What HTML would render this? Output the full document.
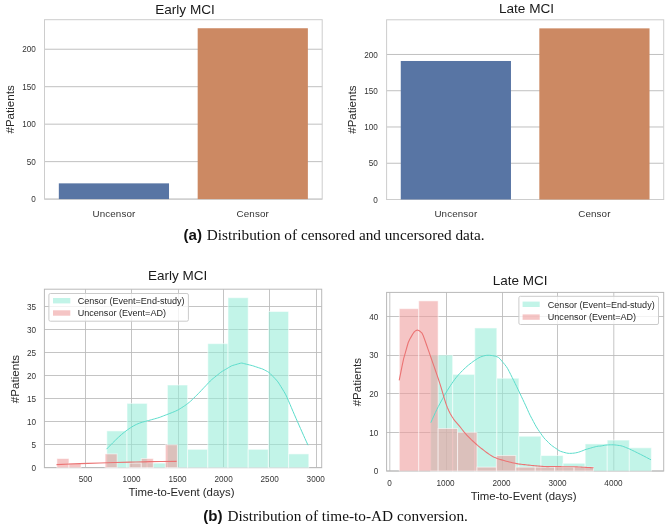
<!DOCTYPE html>
<html><head><meta charset="utf-8"><style>
html,body{margin:0;padding:0;background:#fff;width:668px;height:527px;overflow:hidden}
svg{display:block;font-family:"Liberation Sans", sans-serif;filter:blur(0.35px)}
</style></head><body>
<svg width="668" height="527" viewBox="0 0 668 527">
<g>
<line x1="44.5" y1="199.10" x2="322.2" y2="199.10" stroke="#c0c0c0" stroke-width="1"/>
<line x1="44.5" y1="161.63" x2="322.2" y2="161.63" stroke="#c0c0c0" stroke-width="1"/>
<line x1="44.5" y1="124.16" x2="322.2" y2="124.16" stroke="#c0c0c0" stroke-width="1"/>
<line x1="44.5" y1="86.69" x2="322.2" y2="86.69" stroke="#c0c0c0" stroke-width="1"/>
<line x1="44.5" y1="49.23" x2="322.2" y2="49.23" stroke="#c0c0c0" stroke-width="1"/>
<rect x="44.5" y="19.7" width="277.70" height="179.40" fill="none" stroke="#cdcdcd" stroke-width="1"/>
<rect x="58.82" y="183.36" width="110.20" height="15.74" fill="#5875a4"/>
<text x="113.92" y="217.00" font-size="9.8" text-anchor="middle" fill="#333" letter-spacing="0.12">Uncensor</text>
<rect x="197.67" y="28.24" width="110.20" height="170.86" fill="#cc8963"/>
<text x="252.77" y="217.00" font-size="9.8" text-anchor="middle" fill="#333" letter-spacing="0.12">Censor</text>
<text transform="translate(35.90,202.20) scale(0.9,1)" font-size="9.1" text-anchor="end" fill="#333">0</text>
<text transform="translate(35.90,164.73) scale(0.9,1)" font-size="9.1" text-anchor="end" fill="#333">50</text>
<text transform="translate(35.90,127.26) scale(0.9,1)" font-size="9.1" text-anchor="end" fill="#333">100</text>
<text transform="translate(35.90,89.79) scale(0.9,1)" font-size="9.1" text-anchor="end" fill="#333">150</text>
<text transform="translate(35.90,52.33) scale(0.9,1)" font-size="9.1" text-anchor="end" fill="#333">200</text>
<text x="185.00" y="14.30" font-size="13.6" text-anchor="middle" fill="#1a1a1a" >Early MCI</text>
<text x="0" y="0" font-size="11.6" text-anchor="middle" fill="#262626" transform="translate(14.0,109.40) rotate(-90)">#Patients</text>
<line x1="386.6" y1="199.50" x2="663.7" y2="199.50" stroke="#c0c0c0" stroke-width="1"/>
<line x1="386.6" y1="163.24" x2="663.7" y2="163.24" stroke="#c0c0c0" stroke-width="1"/>
<line x1="386.6" y1="126.98" x2="663.7" y2="126.98" stroke="#c0c0c0" stroke-width="1"/>
<line x1="386.6" y1="90.72" x2="663.7" y2="90.72" stroke="#c0c0c0" stroke-width="1"/>
<line x1="386.6" y1="54.46" x2="663.7" y2="54.46" stroke="#c0c0c0" stroke-width="1"/>
<rect x="386.6" y="19.8" width="277.10" height="179.70" fill="none" stroke="#cdcdcd" stroke-width="1"/>
<rect x="400.77" y="60.99" width="110.20" height="138.51" fill="#5875a4"/>
<text x="455.88" y="217.30" font-size="9.8" text-anchor="middle" fill="#333" letter-spacing="0.12">Uncensor</text>
<rect x="539.33" y="28.36" width="110.20" height="171.14" fill="#cc8963"/>
<text x="594.43" y="217.30" font-size="9.8" text-anchor="middle" fill="#333" letter-spacing="0.12">Censor</text>
<text transform="translate(377.80,202.60) scale(0.9,1)" font-size="9.1" text-anchor="end" fill="#333">0</text>
<text transform="translate(377.80,166.34) scale(0.9,1)" font-size="9.1" text-anchor="end" fill="#333">50</text>
<text transform="translate(377.80,130.08) scale(0.9,1)" font-size="9.1" text-anchor="end" fill="#333">100</text>
<text transform="translate(377.80,93.82) scale(0.9,1)" font-size="9.1" text-anchor="end" fill="#333">150</text>
<text transform="translate(377.80,57.56) scale(0.9,1)" font-size="9.1" text-anchor="end" fill="#333">200</text>
<text x="526.50" y="12.70" font-size="13.6" text-anchor="middle" fill="#1a1a1a" >Late MCI</text>
<text x="0" y="0" font-size="11.6" text-anchor="middle" fill="#262626" transform="translate(355.8,109.65) rotate(-90)">#Patients</text>
</g>
<line x1="44.4" y1="467.50" x2="321.7" y2="467.50" stroke="#b9b9b9" stroke-width="0.85"/>
<line x1="44.4" y1="444.50" x2="321.7" y2="444.50" stroke="#b9b9b9" stroke-width="0.85"/>
<line x1="44.4" y1="421.50" x2="321.7" y2="421.50" stroke="#b9b9b9" stroke-width="0.85"/>
<line x1="44.4" y1="398.50" x2="321.7" y2="398.50" stroke="#b9b9b9" stroke-width="0.85"/>
<line x1="44.4" y1="375.50" x2="321.7" y2="375.50" stroke="#b9b9b9" stroke-width="0.85"/>
<line x1="44.4" y1="352.50" x2="321.7" y2="352.50" stroke="#b9b9b9" stroke-width="0.85"/>
<line x1="44.4" y1="329.50" x2="321.7" y2="329.50" stroke="#b9b9b9" stroke-width="0.85"/>
<line x1="44.4" y1="306.50" x2="321.7" y2="306.50" stroke="#b9b9b9" stroke-width="0.85"/>
<line x1="85.50" y1="289.2" x2="85.50" y2="467.7" stroke="#b9b9b9" stroke-width="0.85"/>
<line x1="131.50" y1="289.2" x2="131.50" y2="467.7" stroke="#b9b9b9" stroke-width="0.85"/>
<line x1="178.50" y1="289.2" x2="178.50" y2="467.7" stroke="#b9b9b9" stroke-width="0.85"/>
<line x1="223.50" y1="289.2" x2="223.50" y2="467.7" stroke="#b9b9b9" stroke-width="0.85"/>
<line x1="269.50" y1="289.2" x2="269.50" y2="467.7" stroke="#b9b9b9" stroke-width="0.85"/>
<line x1="316.50" y1="289.2" x2="316.50" y2="467.7" stroke="#b9b9b9" stroke-width="0.85"/>
<rect x="44.4" y="289.2" width="277.30" height="178.50" fill="none" stroke="#b9b9b9" stroke-width="1"/>
<rect x="106.80" y="430.94" width="20.20" height="36.76" fill="rgba(152,236,216,0.59)" stroke="rgba(255,255,255,0.55)" stroke-width="1"/>
<rect x="127.00" y="403.38" width="20.20" height="64.32" fill="rgba(152,236,216,0.59)" stroke="rgba(255,255,255,0.55)" stroke-width="1"/>
<rect x="147.20" y="463.11" width="20.20" height="4.59" fill="rgba(152,236,216,0.59)" stroke="rgba(255,255,255,0.55)" stroke-width="1"/>
<rect x="167.40" y="385.00" width="20.20" height="82.70" fill="rgba(152,236,216,0.59)" stroke="rgba(255,255,255,0.55)" stroke-width="1"/>
<rect x="187.60" y="449.32" width="20.20" height="18.38" fill="rgba(152,236,216,0.59)" stroke="rgba(255,255,255,0.55)" stroke-width="1"/>
<rect x="207.80" y="343.65" width="20.20" height="124.05" fill="rgba(152,236,216,0.59)" stroke="rgba(255,255,255,0.55)" stroke-width="1"/>
<rect x="228.00" y="297.70" width="20.20" height="170.00" fill="rgba(152,236,216,0.59)" stroke="rgba(255,255,255,0.55)" stroke-width="1"/>
<rect x="248.20" y="449.32" width="20.20" height="18.38" fill="rgba(152,236,216,0.59)" stroke="rgba(255,255,255,0.55)" stroke-width="1"/>
<rect x="268.40" y="311.48" width="20.20" height="156.22" fill="rgba(152,236,216,0.59)" stroke="rgba(255,255,255,0.55)" stroke-width="1"/>
<rect x="288.60" y="453.92" width="20.20" height="13.78" fill="rgba(152,236,216,0.59)" stroke="rgba(255,255,255,0.55)" stroke-width="1"/>
<rect x="56.90" y="458.51" width="12.05" height="9.19" fill="rgba(238,157,157,0.59)" stroke="rgba(255,255,255,0.55)" stroke-width="1"/>
<rect x="68.95" y="463.11" width="12.05" height="4.59" fill="rgba(238,157,157,0.59)" stroke="rgba(255,255,255,0.55)" stroke-width="1"/>
<rect x="105.10" y="453.92" width="12.05" height="13.78" fill="rgba(238,157,157,0.59)" stroke="rgba(255,255,255,0.55)" stroke-width="1"/>
<rect x="129.20" y="463.11" width="12.05" height="4.59" fill="rgba(238,157,157,0.59)" stroke="rgba(255,255,255,0.55)" stroke-width="1"/>
<rect x="141.25" y="458.51" width="12.05" height="9.19" fill="rgba(238,157,157,0.59)" stroke="rgba(255,255,255,0.55)" stroke-width="1"/>
<rect x="165.35" y="444.73" width="12.05" height="22.97" fill="rgba(238,157,157,0.59)" stroke="rgba(255,255,255,0.55)" stroke-width="1"/>
<path d="M106.50,449.17 L108.00,447.65 L109.51,446.11 L111.01,444.58 L112.51,443.07 L114.02,441.57 L115.52,440.09 L117.03,438.63 L118.53,437.21 L120.03,435.84 L121.54,434.53 L123.04,433.26 L124.54,432.05 L126.05,430.89 L127.55,429.78 L129.06,428.74 L130.56,427.75 L132.06,426.79 L133.57,425.89 L135.07,425.07 L136.57,424.35 L138.08,423.70 L139.58,423.11 L141.09,422.58 L142.59,422.11 L144.09,421.70 L145.60,421.30 L147.10,420.89 L148.60,420.48 L150.11,420.08 L151.61,419.67 L153.12,419.26 L154.62,418.85 L156.12,418.43 L157.63,417.99 L159.13,417.52 L160.63,416.99 L162.14,416.41 L163.64,415.81 L165.15,415.23 L166.65,414.65 L168.15,414.08 L169.66,413.50 L171.16,412.92 L172.66,412.33 L174.17,411.72 L175.67,411.08 L177.18,410.37 L178.68,409.55 L180.18,408.65 L181.69,407.70 L183.19,406.72 L184.69,405.71 L186.20,404.65 L187.70,403.54 L189.21,402.37 L190.71,401.05 L192.21,399.62 L193.72,398.16 L195.22,396.69 L196.72,395.20 L198.23,393.70 L199.73,392.15 L201.24,390.54 L202.74,388.92 L204.24,387.33 L205.75,385.75 L207.25,384.16 L208.75,382.57 L210.26,380.99 L211.76,379.57 L213.26,378.38 L214.77,377.18 L216.27,375.96 L217.78,374.75 L219.28,373.53 L220.78,372.31 L222.29,371.30 L223.79,370.43 L225.29,369.54 L226.80,368.65 L228.30,367.76 L229.81,366.85 L231.31,365.97 L232.81,365.41 L234.32,364.98 L235.82,364.55 L237.32,364.12 L238.83,363.68 L240.33,363.24 L241.84,363.04 L243.34,363.39 L244.84,363.80 L246.35,364.17 L247.85,364.54 L249.35,364.91 L250.86,365.27 L252.36,365.65 L253.87,366.11 L255.37,366.63 L256.87,367.14 L258.38,367.65 L259.88,368.14 L261.38,368.58 L262.89,369.16 L264.39,369.90 L265.90,370.68 L267.40,371.49 L268.90,372.44 L270.41,373.77 L271.91,375.35 L273.41,376.92 L274.92,378.48 L276.42,380.09 L277.93,381.92 L279.43,384.19 L280.93,386.62 L282.44,389.08 L283.94,391.56 L285.44,394.15 L286.95,397.23 L288.45,400.71 L289.96,404.23 L291.46,407.77 L292.96,411.31 L294.47,414.81 L295.97,418.25 L297.47,421.65 L298.98,425.05 L300.48,428.45 L301.99,431.85 L303.49,435.22 L304.99,438.57 L306.50,441.90 L308.00,445.23" fill="none" stroke="#5cdccb" stroke-width="1.0" stroke-linejoin="round"/>
<path d="M56.50,464.60 C60.42,464.43 72.75,463.87 80.00,463.60 C87.25,463.33 91.67,463.25 100.00,463.00 C108.33,462.75 121.67,462.33 130.00,462.10 C138.33,461.87 142.23,461.72 150.00,461.60 C157.77,461.48 172.17,461.43 176.60,461.40" fill="none" stroke="#eb7474" stroke-width="1.1" stroke-linejoin="round"/>
<text transform="translate(36.10,471.10) scale(0.9,1)" font-size="9.1" text-anchor="end" fill="#333">0</text>
<text transform="translate(36.10,448.13) scale(0.9,1)" font-size="9.1" text-anchor="end" fill="#333">5</text>
<text transform="translate(36.10,425.15) scale(0.9,1)" font-size="9.1" text-anchor="end" fill="#333">10</text>
<text transform="translate(36.10,402.18) scale(0.9,1)" font-size="9.1" text-anchor="end" fill="#333">15</text>
<text transform="translate(36.10,379.21) scale(0.9,1)" font-size="9.1" text-anchor="end" fill="#333">20</text>
<text transform="translate(36.10,356.24) scale(0.9,1)" font-size="9.1" text-anchor="end" fill="#333">25</text>
<text transform="translate(36.10,333.26) scale(0.9,1)" font-size="9.1" text-anchor="end" fill="#333">30</text>
<text transform="translate(36.10,310.29) scale(0.9,1)" font-size="9.1" text-anchor="end" fill="#333">35</text>
<text transform="translate(85.45,482.20) scale(0.9,1)" font-size="9.1" text-anchor="middle" fill="#333">500</text>
<text transform="translate(131.50,482.20) scale(0.9,1)" font-size="9.1" text-anchor="middle" fill="#333">1000</text>
<text transform="translate(177.55,482.20) scale(0.9,1)" font-size="9.1" text-anchor="middle" fill="#333">1500</text>
<text transform="translate(223.60,482.20) scale(0.9,1)" font-size="9.1" text-anchor="middle" fill="#333">2000</text>
<text transform="translate(269.65,482.20) scale(0.9,1)" font-size="9.1" text-anchor="middle" fill="#333">2500</text>
<text transform="translate(315.70,482.20) scale(0.9,1)" font-size="9.1" text-anchor="middle" fill="#333">3000</text>
<text x="177.60" y="280.30" font-size="13.5" text-anchor="middle" fill="#1a1a1a" >Early MCI</text>
<text x="181.50" y="495.60" font-size="11.4" text-anchor="middle" fill="#262626" >Time-to-Event (days)</text>
<text x="0" y="0" font-size="11.6" text-anchor="middle" fill="#262626" transform="translate(19.0,379.00) rotate(-90)">#Patients</text>
<rect x="48.9" y="293.5" width="139.50" height="27.70" rx="1.5" ry="1.5" fill="rgba(255,255,255,0.8)" stroke="#cbcbcb" stroke-width="1"/>
<rect x="53" y="298.0" width="17.30" height="5.4" fill="rgba(152,236,216,0.59)"/>
<rect x="53" y="310.3" width="17.30" height="5.4" fill="rgba(238,157,157,0.59)"/>
<text transform="translate(77.7,304.00) scale(0.955,1)" font-size="9.5" fill="#262626">Censor (Event=End-study)</text>
<text transform="translate(77.7,316.30) scale(0.955,1)" font-size="9.5" fill="#262626">Uncensor (Event=AD)</text>
<line x1="386.6" y1="471.00" x2="663.7" y2="471.00" stroke="#b9b9b9" stroke-width="0.85"/>
<line x1="386.6" y1="432.50" x2="663.7" y2="432.50" stroke="#b9b9b9" stroke-width="0.85"/>
<line x1="386.6" y1="393.50" x2="663.7" y2="393.50" stroke="#b9b9b9" stroke-width="0.85"/>
<line x1="386.6" y1="355.50" x2="663.7" y2="355.50" stroke="#b9b9b9" stroke-width="0.85"/>
<line x1="386.6" y1="316.50" x2="663.7" y2="316.50" stroke="#b9b9b9" stroke-width="0.85"/>
<line x1="389.80" y1="292.4" x2="389.80" y2="471.0" stroke="#b9b9b9" stroke-width="0.85"/>
<line x1="446.50" y1="292.4" x2="446.50" y2="471.0" stroke="#b9b9b9" stroke-width="0.85"/>
<line x1="502.50" y1="292.4" x2="502.50" y2="471.0" stroke="#b9b9b9" stroke-width="0.85"/>
<line x1="557.50" y1="292.4" x2="557.50" y2="471.0" stroke="#b9b9b9" stroke-width="0.85"/>
<line x1="613.80" y1="292.4" x2="613.80" y2="471.0" stroke="#b9b9b9" stroke-width="0.85"/>
<rect x="386.6" y="292.4" width="277.10" height="178.60" fill="none" stroke="#b9b9b9" stroke-width="1"/>
<rect x="430.60" y="355.03" width="22.08" height="115.97" fill="rgba(152,236,216,0.59)" stroke="rgba(255,255,255,0.55)" stroke-width="1"/>
<rect x="452.68" y="374.35" width="22.08" height="96.65" fill="rgba(152,236,216,0.59)" stroke="rgba(255,255,255,0.55)" stroke-width="1"/>
<rect x="474.76" y="327.97" width="22.08" height="143.03" fill="rgba(152,236,216,0.59)" stroke="rgba(255,255,255,0.55)" stroke-width="1"/>
<rect x="496.84" y="378.22" width="22.08" height="92.78" fill="rgba(152,236,216,0.59)" stroke="rgba(255,255,255,0.55)" stroke-width="1"/>
<rect x="518.92" y="436.21" width="22.08" height="34.79" fill="rgba(152,236,216,0.59)" stroke="rgba(255,255,255,0.55)" stroke-width="1"/>
<rect x="541.00" y="455.54" width="22.08" height="15.46" fill="rgba(152,236,216,0.59)" stroke="rgba(255,255,255,0.55)" stroke-width="1"/>
<rect x="563.08" y="463.27" width="22.08" height="7.73" fill="rgba(152,236,216,0.59)" stroke="rgba(255,255,255,0.55)" stroke-width="1"/>
<rect x="585.16" y="443.94" width="22.08" height="27.06" fill="rgba(152,236,216,0.59)" stroke="rgba(255,255,255,0.55)" stroke-width="1"/>
<rect x="607.24" y="440.07" width="22.08" height="30.93" fill="rgba(152,236,216,0.59)" stroke="rgba(255,255,255,0.55)" stroke-width="1"/>
<rect x="629.32" y="447.81" width="22.08" height="23.19" fill="rgba(152,236,216,0.59)" stroke="rgba(255,255,255,0.55)" stroke-width="1"/>
<rect x="399.30" y="308.64" width="19.42" height="162.36" fill="rgba(238,157,157,0.59)" stroke="rgba(255,255,255,0.55)" stroke-width="1"/>
<rect x="418.72" y="300.90" width="19.42" height="170.10" fill="rgba(238,157,157,0.59)" stroke="rgba(255,255,255,0.55)" stroke-width="1"/>
<rect x="438.14" y="428.48" width="19.42" height="42.52" fill="rgba(238,157,157,0.59)" stroke="rgba(255,255,255,0.55)" stroke-width="1"/>
<rect x="457.56" y="432.34" width="19.42" height="38.66" fill="rgba(238,157,157,0.59)" stroke="rgba(255,255,255,0.55)" stroke-width="1"/>
<rect x="476.98" y="467.13" width="19.42" height="3.87" fill="rgba(238,157,157,0.59)" stroke="rgba(255,255,255,0.55)" stroke-width="1"/>
<rect x="496.40" y="455.54" width="19.42" height="15.46" fill="rgba(238,157,157,0.59)" stroke="rgba(255,255,255,0.55)" stroke-width="1"/>
<rect x="515.82" y="467.13" width="19.42" height="3.87" fill="rgba(238,157,157,0.59)" stroke="rgba(255,255,255,0.55)" stroke-width="1"/>
<rect x="535.24" y="467.13" width="19.42" height="3.87" fill="rgba(238,157,157,0.59)" stroke="rgba(255,255,255,0.55)" stroke-width="1"/>
<rect x="554.66" y="467.13" width="19.42" height="3.87" fill="rgba(238,157,157,0.59)" stroke="rgba(255,255,255,0.55)" stroke-width="1"/>
<rect x="574.08" y="467.13" width="19.42" height="3.87" fill="rgba(238,157,157,0.59)" stroke="rgba(255,255,255,0.55)" stroke-width="1"/>
<path d="M430.80,422.74 L432.31,419.37 L433.82,416.01 L435.32,412.70 L436.83,409.51 L438.34,406.53 L439.85,403.70 L441.36,400.94 L442.87,398.21 L444.37,395.54 L445.88,392.96 L447.39,390.44 L448.90,388.00 L450.41,385.67 L451.92,383.42 L453.42,381.23 L454.93,379.13 L456.44,377.19 L457.95,375.44 L459.46,373.77 L460.96,372.16 L462.47,370.61 L463.98,369.13 L465.49,367.71 L467.00,366.34 L468.51,365.05 L470.01,363.87 L471.52,362.72 L473.03,361.60 L474.54,360.54 L476.05,359.53 L477.55,358.57 L479.06,357.70 L480.57,356.99 L482.08,356.43 L483.59,355.96 L485.10,355.59 L486.60,355.34 L488.11,355.26 L489.62,355.31 L491.13,355.45 L492.64,355.68 L494.15,355.99 L495.65,356.36 L497.16,356.82 L498.67,357.57 L500.18,359.04 L501.69,360.87 L503.19,362.67 L504.70,364.47 L506.21,366.38 L507.72,368.73 L509.23,371.61 L510.74,374.59 L512.24,377.60 L513.75,380.62 L515.26,383.68 L516.77,386.78 L518.28,389.92 L519.78,393.10 L521.29,396.28 L522.80,399.44 L524.31,402.61 L525.82,405.86 L527.33,409.23 L528.83,412.62 L530.34,415.72 L531.85,418.59 L533.36,421.43 L534.87,424.25 L536.38,426.94 L537.88,429.29 L539.39,431.48 L540.90,433.64 L542.41,435.78 L543.92,437.80 L545.42,439.48 L546.93,441.01 L548.44,442.50 L549.95,443.97 L551.46,445.31 L552.97,446.43 L554.47,447.46 L555.98,448.46 L557.49,449.53 L559.00,450.59 L560.51,451.30 L562.02,451.79 L563.52,452.24 L565.03,452.66 L566.54,453.04 L568.05,453.29 L569.56,453.36 L571.06,453.34 L572.57,453.25 L574.08,453.10 L575.59,452.88 L577.10,452.56 L578.61,452.16 L580.11,451.69 L581.62,451.14 L583.13,450.52 L584.64,449.87 L586.15,449.35 L587.65,448.93 L589.16,448.50 L590.67,448.07 L592.18,447.64 L593.69,447.22 L595.20,446.81 L596.70,446.43 L598.21,446.17 L599.72,446.10 L601.23,445.95 L602.74,445.66 L604.25,445.37 L605.75,445.12 L607.26,444.95 L608.77,444.86 L610.28,444.82 L611.79,444.80 L613.29,444.80 L614.80,444.91 L616.31,445.10 L617.82,445.31 L619.33,445.53 L620.84,445.78 L622.34,446.15 L623.85,446.70 L625.36,447.28 L626.87,447.86 L628.38,448.48 L629.88,449.16 L631.39,449.86 L632.90,450.60 L634.41,451.34 L635.92,452.08 L637.43,452.83 L638.93,453.58 L640.44,454.33 L641.95,455.09 L643.46,455.86 L644.97,456.64 L646.48,457.43 L647.98,458.22 L649.49,459.02 L651.00,459.80" fill="none" stroke="#5cdccb" stroke-width="1.0" stroke-linejoin="round"/>
<path d="M399.20,380.30 L400.71,372.77 L402.21,365.27 L403.72,358.43 L405.23,353.08 L406.73,347.76 L408.24,342.51 L409.75,339.21 L411.26,336.63 L412.76,334.02 L414.27,331.85 L415.78,330.65 L417.28,329.99 L418.79,330.54 L420.30,331.57 L421.80,332.84 L423.31,335.82 L424.82,340.03 L426.33,344.27 L427.83,348.56 L429.34,352.89 L430.85,357.24 L432.35,361.57 L433.86,365.88 L435.37,370.20 L436.87,374.57 L438.38,379.00 L439.89,383.60 L441.40,388.50 L442.90,393.61 L444.41,398.82 L445.92,403.59 L447.42,407.63 L448.93,411.03 L450.44,413.93 L451.94,416.49 L453.45,418.82 L454.96,420.95 L456.47,422.69 L457.97,424.36 L459.48,426.13 L460.99,428.01 L462.49,430.00 L464.00,431.95 L465.51,433.71 L467.01,435.27 L468.52,436.81 L470.03,438.35 L471.53,439.84 L473.04,441.24 L474.55,442.62 L476.06,443.99 L477.56,445.32 L479.07,446.60 L480.58,447.83 L482.08,449.02 L483.59,450.19 L485.10,451.34 L486.60,452.46 L488.11,453.56 L489.62,454.60 L491.13,455.57 L492.63,456.43 L494.14,457.18 L495.65,457.84 L497.15,458.42 L498.66,458.94 L500.17,459.42 L501.67,459.87 L503.18,460.32 L504.69,460.75 L506.20,461.16 L507.70,461.56 L509.21,461.94 L510.72,462.31 L512.22,462.67 L513.73,463.01 L515.24,463.33 L516.74,463.62 L518.25,463.88 L519.76,464.10 L521.27,464.30 L522.77,464.47 L524.28,464.63 L525.79,464.79 L527.29,464.95 L528.80,465.11 L530.31,465.27 L531.81,465.43 L533.32,465.59 L534.83,465.74 L536.33,465.89 L537.84,466.03 L539.35,466.17 L540.86,466.30 L542.36,466.41 L543.87,466.50 L545.38,466.57 L546.88,466.59 L548.39,466.58 L549.90,466.55 L551.40,466.53 L552.91,466.53 L554.42,466.55 L555.93,466.58 L557.43,466.61 L558.94,466.64 L560.45,466.67 L561.95,466.70 L563.46,466.73 L564.97,466.75 L566.47,466.78 L567.98,466.80 L569.49,466.81 L571.00,466.81 L572.50,466.81 L574.01,466.81 L575.52,466.83 L577.02,466.87 L578.53,466.94 L580.04,467.01 L581.54,467.09 L583.05,467.18 L584.56,467.27 L586.07,467.35 L587.57,467.44 L589.08,467.53 L590.59,467.62 L592.09,467.71 L593.60,467.79" fill="none" stroke="#eb7474" stroke-width="1.1" stroke-linejoin="round"/>
<text transform="translate(378.30,474.40) scale(0.9,1)" font-size="9.1" text-anchor="end" fill="#333">0</text>
<text transform="translate(378.30,435.74) scale(0.9,1)" font-size="9.1" text-anchor="end" fill="#333">10</text>
<text transform="translate(378.30,397.08) scale(0.9,1)" font-size="9.1" text-anchor="end" fill="#333">20</text>
<text transform="translate(378.30,358.43) scale(0.9,1)" font-size="9.1" text-anchor="end" fill="#333">30</text>
<text transform="translate(378.30,319.77) scale(0.9,1)" font-size="9.1" text-anchor="end" fill="#333">40</text>
<text transform="translate(389.60,486.00) scale(0.9,1)" font-size="9.1" text-anchor="middle" fill="#333">0</text>
<text transform="translate(445.56,486.00) scale(0.9,1)" font-size="9.1" text-anchor="middle" fill="#333">1000</text>
<text transform="translate(501.52,486.00) scale(0.9,1)" font-size="9.1" text-anchor="middle" fill="#333">2000</text>
<text transform="translate(557.48,486.00) scale(0.9,1)" font-size="9.1" text-anchor="middle" fill="#333">3000</text>
<text transform="translate(613.44,486.00) scale(0.9,1)" font-size="9.1" text-anchor="middle" fill="#333">4000</text>
<text x="520.10" y="284.80" font-size="13.5" text-anchor="middle" fill="#1a1a1a" >Late MCI</text>
<text x="523.65" y="499.70" font-size="11.4" text-anchor="middle" fill="#262626" >Time-to-Event (days)</text>
<text x="0" y="0" font-size="11.6" text-anchor="middle" fill="#262626" transform="translate(361.0,382.20) rotate(-90)">#Patients</text>
<rect x="518.9" y="296.3" width="139.60" height="28.20" rx="1.5" ry="1.5" fill="rgba(255,255,255,0.8)" stroke="#cbcbcb" stroke-width="1"/>
<rect x="522.6" y="301.6" width="17.10" height="5.4" fill="rgba(152,236,216,0.59)"/>
<rect x="522.6" y="314.4" width="17.10" height="5.4" fill="rgba(238,157,157,0.59)"/>
<text transform="translate(547.8,307.60) scale(0.955,1)" font-size="9.5" fill="#262626">Censor (Event=End-study)</text>
<text transform="translate(547.8,320.40) scale(0.955,1)" font-size="9.5" fill="#262626">Uncensor (Event=AD)</text>
<text x="183.5" y="240.4" font-size="15.1" fill="#111"><tspan font-family='"Liberation Sans", sans-serif' font-weight="bold">(a)</tspan><tspan dx="4.9" font-size="15.25" font-family='"Liberation Serif", serif'>Distribution of censored and uncersored data.</tspan></text>
<text x="203.3" y="520.6" font-size="15.1" fill="#111"><tspan font-family='"Liberation Sans", sans-serif' font-weight="bold">(b)</tspan><tspan dx="4.9" font-size="15.3" font-family='"Liberation Serif", serif'>Distribution of time-to-AD conversion.</tspan></text>
</svg>
</body></html>
